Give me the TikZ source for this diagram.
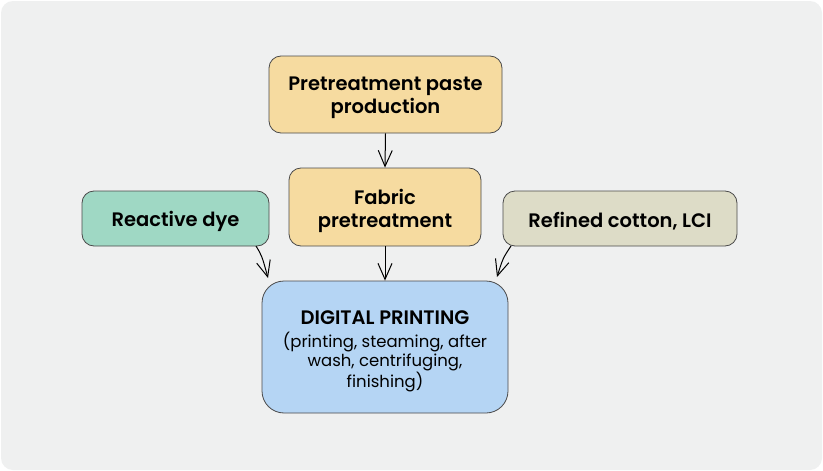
\documentclass[tikz,border=0pt]{standalone}
\usepackage{fontspec}
\setmainfont{Poppins}[BoldFont={Poppins SemiBold}]
\usetikzlibrary{arrows.meta}
\definecolor{bg}{HTML}{EFF0F0}
\definecolor{fillorange}{HTML}{F6DBA0}
\definecolor{fillteal}{HTML}{9FD8C4}
\definecolor{fillbeige}{HTML}{DDDCC7}
\definecolor{fillblue}{HTML}{B5D5F4}
\definecolor{edge}{HTML}{4A4A4A}
\tikzset{
  box/.style={draw=edge, line width=0.8pt, rounded corners=12pt, align=center, inner sep=0pt, font=\bfseries\fontsize{19.5}{23}\selectfont},
  boxtext/.style={align=center, inner sep=0pt, font=\bfseries\fontsize{19.5}{23}\selectfont},
  conn/.style={-{Straight Barb[length=16pt,width=14pt]}, line width=1pt, black},
}
\begin{document}
\begin{tikzpicture}[x=1pt,y=-1pt]
\fill[white] (0,0) rectangle (823,471);
\useasboundingbox (0,0) rectangle (823,471);
\fill[bg, rounded corners=12pt] (1,1) rectangle (822,470);
\node[box, fill=fillorange, minimum width=233pt, minimum height=77pt] (paste) at (385.5,94.5) {};
\node[boxtext] (pastetext) at ([yshift=-3.5pt]paste.center) {Pretreatment paste\\production};
\node[box, fill=fillorange, minimum width=192pt, minimum height=78pt] (fabric) at (385,207) {};
\node[boxtext] (fabrictext) at ([yshift=-3.5pt]fabric.center) {Fabric\\pretreatment};
\node[box, fill=fillteal, minimum width=187pt, minimum height=55pt] (dye) at (175.5,218.5) {};
\node[boxtext] (dyetext) at ([yshift=-3pt]dye.center) {Reactive dye};
\node[box, fill=fillbeige, minimum width=234pt, minimum height=55pt] (cotton) at (620,218.5) {};
\node[boxtext] (cottontext) at ([yshift=-3pt]cotton.center) {Refined cotton, LCI};
\node[box, fill=fillblue, minimum width=246pt, minimum height=132pt, rounded corners=22pt] (dp) at (385,347) {};
\node[font=\bfseries\fontsize{19.5}{23}\selectfont] (dptitle) at (385,318) {DIGITAL PRINTING};
\node[font=\fontsize{16.5}{18.5}\selectfont, align=center] (dpsub) at (385,362) {(printing, steaming, after\\wash, centrifuging,\\finishing)};
\draw[conn] (paste.south) -- (fabric.north);
\draw[conn] (fabric.south) -- (dp.north);
\coordinate (dyeout) at (256,246);
\coordinate (dyein) at (268,278);
\coordinate (cotout) at (511,246);
\coordinate (cotin) at (497,277);
\draw[conn] (dyeout) .. controls (262,256) .. (dyein);
\draw[conn] (cotout) .. controls (503,258) .. (cotin);
\end{tikzpicture}
\end{document}
